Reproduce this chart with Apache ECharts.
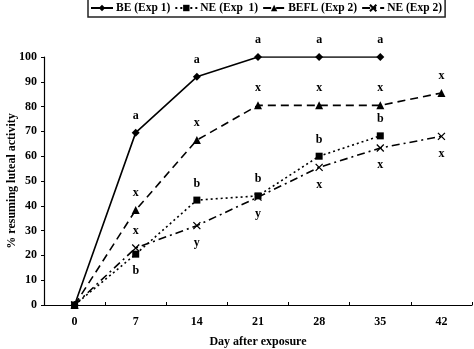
<!DOCTYPE html>
<html>
<head>
<meta charset="utf-8">
<script src="https://cdn.jsdelivr.net/npm/echarts@6/dist/echarts.min.js"></script>
<style>
  html, body { margin: 0; padding: 0; background: #fff; }
  #chart { width: 474px; height: 349px; }
</style>
</head>
<body>
<div id="chart"></div>
<script>
// Days after exposure (x axis categories)
const days = ['0', '7', '14', '21', '28', '35', '42'];

// % resuming luteal activity per group
const beExp1   = [0, 69.5, 92, 100, 100, 100, null];
const neExp1   = [0, 20.5, 42.3, 44, 60, 68.2, null];
const beflExp2 = [0, 38.3, 66.5, 80.5, 80.5, 80.5, 85.5];
const neExp2   = [0, 23, 32, 43.5, 55.5, 63.3, 68];

// Significance letters per point
const beLetters   = ['', 'a', 'a', 'a', 'a', 'a', ''];
const neLetters1  = ['', 'b', 'b', 'b', 'b', 'b', ''];
const beflLetters = ['', 'x', 'x', 'x', 'x', 'x', 'x'];
const neLetters2  = ['', 'x', 'y', 'y', 'x', 'x', 'x'];

const FONT = '"Liberation Serif", "Times New Roman", serif';
const cross = 'path://M0,0L10,10M10,0L0,10';

// which letters sit under their point
const below = {
  'NE (Exp  1)': [false, true, false, false, false, false, false],
  'NE (Exp 2)':  [false, false, true, true, true, true, true]
};

function makeSeries(name, values, letters, symbol, size, dash) {
  const side = below[name] || [];
  return {
    name: name,
    type: 'line',
    data: values.map((v, i) => ({
      value: v,
      label: {
        show: letters[i] !== '',
        formatter: letters[i],
        position: side[i] ? 'bottom' : 'top'
      }
    })),
    symbol: symbol,
    symbolSize: size,
    showSymbol: true,
    connectNulls: false,
    itemStyle: symbol === cross
      ? { color: '#000', borderColor: '#000', borderWidth: 1.3 }
      : { color: '#000' },
    lineStyle: { color: '#000', width: 1.6, type: dash },
    label: {
      color: '#000',
      fontFamily: FONT,
      fontWeight: 'bold',
      fontSize: 12,
      distance: 7
    },
    animation: false
  };
}

const chart = echarts.init(document.getElementById('chart'));
chart.setOption({
  backgroundColor: '#fff',
  animation: false,
  grid: { left: 44, right: 2, top: 57, bottom: 44, containLabel: false, outerBoundsMode: 'none' },
  legend: {
    left: 88,
    top: -1,
    width: 384,
    itemWidth: 22,
    itemHeight: 8,
    itemGap: 4,
    padding: [3, 3, 3, 2],
    borderColor: '#222',
    borderWidth: 1.5,
    textStyle: { fontFamily: FONT, fontWeight: 'bold', fontSize: 11.5, color: '#000', padding: [0, 0, 0, -2] },
    data: ['BE (Exp 1)', 'NE (Exp  1)', 'BEFL (Exp 2)', 'NE (Exp 2)']
  },
  xAxis: {
    type: 'category',
    data: days,
    boundaryGap: true,
    name: 'Day after exposure',
    nameLocation: 'middle',
    nameGap: 31,
    nameMoveOverlap: false,
    nameTextStyle: { fontFamily: FONT, fontWeight: 'bold', fontSize: 12, color: '#000' },
    axisLine: { lineStyle: { color: '#000', width: 1.2 } },
    axisTick: { show: true, inside: true, length: 3, alignWithLabel: false, lineStyle: { color: '#000' } },
    axisLabel: { fontFamily: FONT, fontWeight: 'bold', fontSize: 12, color: '#000', margin: 11 },
    splitLine: { show: false }
  },
  yAxis: {
    type: 'value',
    min: 0,
    max: 100,
    interval: 10,
    name: '% resuming luteal activity',
    nameLocation: 'middle',
    nameGap: 26,
    nameMoveOverlap: false,
    nameTextStyle: { fontFamily: FONT, fontWeight: 'bold', fontSize: 12, color: '#000' },
    axisLine: { show: true, lineStyle: { color: '#000', width: 1.2 } },
    axisTick: { show: true, length: 3, lineStyle: { color: '#000' } },
    axisLabel: { fontFamily: FONT, fontWeight: 'bold', fontSize: 12, color: '#000', margin: 7 },
    splitLine: { show: false }
  },
  series: [
    makeSeries('BE (Exp 1)', beExp1, beLetters, 'diamond', 8, 'solid'),
    makeSeries('NE (Exp  1)', neExp1, neLetters1, 'rect', 7, [2, 3]),
    makeSeries('BEFL (Exp 2)', beflExp2, beflLetters, 'triangle', 8, [8, 5]),
    makeSeries('NE (Exp 2)', neExp2, neLetters2, cross, 7, [8, 4, 2, 4])
  ]
});
</script>
</body>
</html>
